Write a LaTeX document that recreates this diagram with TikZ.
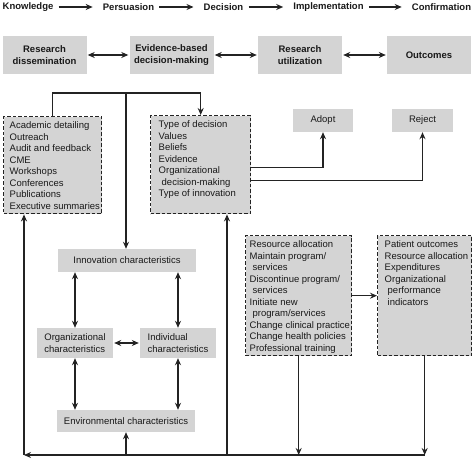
\documentclass[tikz,border=0pt]{standalone}
\usepackage{fontspec}
\setmainfont{Liberation Sans}
\usetikzlibrary{arrows.meta}
\definecolor{boxgray}{RGB}{212,212,212}
\definecolor{linegray}{RGB}{35,35,35}

\begin{document}
\begin{tikzpicture}[x=1pt,y=-1pt,
  font=\fontsize{9.5}{11.5}\selectfont, text=black!90,
  >={Stealth[length=7pt,width=6pt]},
  stage node/.style={font=\fontsize{9.5}{11.5}\selectfont\bfseries, inner xsep=5pt},
  main node/.style={fill=boxgray, font=\fontsize{9.5}{12.4}\selectfont\bfseries, align=center, minimum width=84pt, minimum height=38pt},
  gray node/.style={fill=boxgray, font=\fontsize{9.5}{11.3}\selectfont, inner sep=0pt},
  list node/.style={draw=linegray, fill=boxgray, dash pattern=on 3.5pt off 2pt, line width=1.4pt, anchor=north west, inner ysep=4pt},
  link/.style={draw=linegray, line width=1.2pt}]

\useasboundingbox (0,0) rectangle (474,462);

% stages
\node[stage node] (know) at (28,7) {Knowledge};
\node[stage node] (pers) at (128.5,7) {Persuasion};
\node[stage node] (deci) at (223.5,7) {Decision};
\node[stage node] (impl) at (328.5,7) {Implementation};
\node[stage node] (conf) at (441.5,7) {Confirmation};

\path (know) [link, ->, shorten >=5pt] edge (pers)
(pers) edge (deci)
(deci) edge (impl)
(impl) edge (conf);

% main row
\node[main node] (diss) at (44.5,55) {Research\\dissemination};
\node[main node] (ebdm) at (171.5,55) {Evidence-based\\decision-making};
\node[main node] (util) at (300,55) {Research\\utilization};
\node[main node] (outc) at (429,55) {Outcomes};

\path (diss) [link, <->, shorten >=1pt, shorten <=1pt] edge (ebdm)
(ebdm) edge (util)
(util) edge (outc);

% dashed lists
\node[list node, inner xsep=6pt] (acts) at (3,116) {\parbox[c][89pt][t]{86pt}{\begin{tabular}{@{}l@{}}
Academic detailing\\ Outreach\\ Audit and feedback\\ CME\\ Workshops\\ Conferences\\ Publications\\ Executive summaries
\end{tabular}}};
\node[list node, inner xsep=8pt] (dec) at (150,115) {\parbox[c][90pt][t]{84pt}{\begin{tabular}{@{}l@{}}
Type of decision\\ Values\\ Beliefs\\ Evidence\\ Organizational\\ \hspace{3pt}decision-making\\ Type of innovation
\end{tabular}}};
\node[list node, inner xsep=4pt] (res) at (245,235) {\parbox[c][112pt][t]{98pt}{\begin{tabular}{@{}l@{}}
Resource allocation\\ Maintain program/\\ \hspace{3pt}services\\ Discontinue program/\\ \hspace{3pt}services\\ Initiate new\\ \hspace{3pt}program/services\\ Change clinical practice\\ Change health policies\\ Professional training
\end{tabular}}};
\node[list node, inner xsep=7pt] (pat) at (377,235) {\parbox[c][112pt][t]{80pt}{\begin{tabular}{@{}l@{}}
Patient outcomes\\ Resource allocation\\ Expenditures\\ Organizational\\ \hspace{3pt}performance\\ \hspace{3pt}indicators
\end{tabular}}};

% gray boxes
\node[gray node, minimum width=60pt, minimum height=23pt] (adopt) at (323,120.5) {Adopt};
\node[gray node, minimum width=61pt, minimum height=23pt] (reject) at (422.5,120.5) {Reject};
\node[gray node, minimum width=138pt, minimum height=23pt] (innov) at (127,260.5) {Innovation characteristics};
\node[gray node, minimum width=76pt, minimum height=30pt, align=left] (org) at (75,343) {Organizational\\characteristics};
\node[gray node, minimum width=76pt, minimum height=30pt, align=left] (indiv) at (178,343) {Individual\\characteristics};
\node[gray node, minimum width=138pt, minimum height=22pt] (env) at (126,421) {Environmental characteristics};

\coordinate (top) at (126,93);
\coordinate (bl) at (24,455);
\coordinate (dj) at (227,455);

% connectors
\draw[link, ->] (acts.north) |- (top) -| (dec.north);
\draw[link, ->] (top) -- (top |- innov.north);
\draw[link, ->] ([yshift=-3pt]dec.east) -| (adopt.south);
\draw[link, ->] ([yshift=-16pt]dec.east) -| (reject.south);
\draw[link, ->] (res.east) -- (pat.west);
\draw[link, ->] (res.south) -- (res.south |- bl);
\draw[link, ->] (pat.south) -- (pat.south |- bl);
\draw[link, ->] (pat.south |- bl) -- (bl);
\draw[link, ->] (bl) -- (bl |- acts.south);
\draw[link, ->] (env.south |- bl) -- (env.south);
\draw[link, ->] (dj) -- (dj |- dec.south);

\draw[link, <->] (org.north |- innov.south) -- (org.north);
\draw[link, <->] (indiv.north |- innov.south) -- (indiv.north);
\draw[link, <->] (org.south) -- (org.south |- env.north);
\draw[link, <->] (indiv.south) -- (indiv.south |- env.north);
\draw[link, <->, shorten >=1pt, shorten <=1pt] (org) -- (indiv);

\end{tikzpicture}
\end{document}
